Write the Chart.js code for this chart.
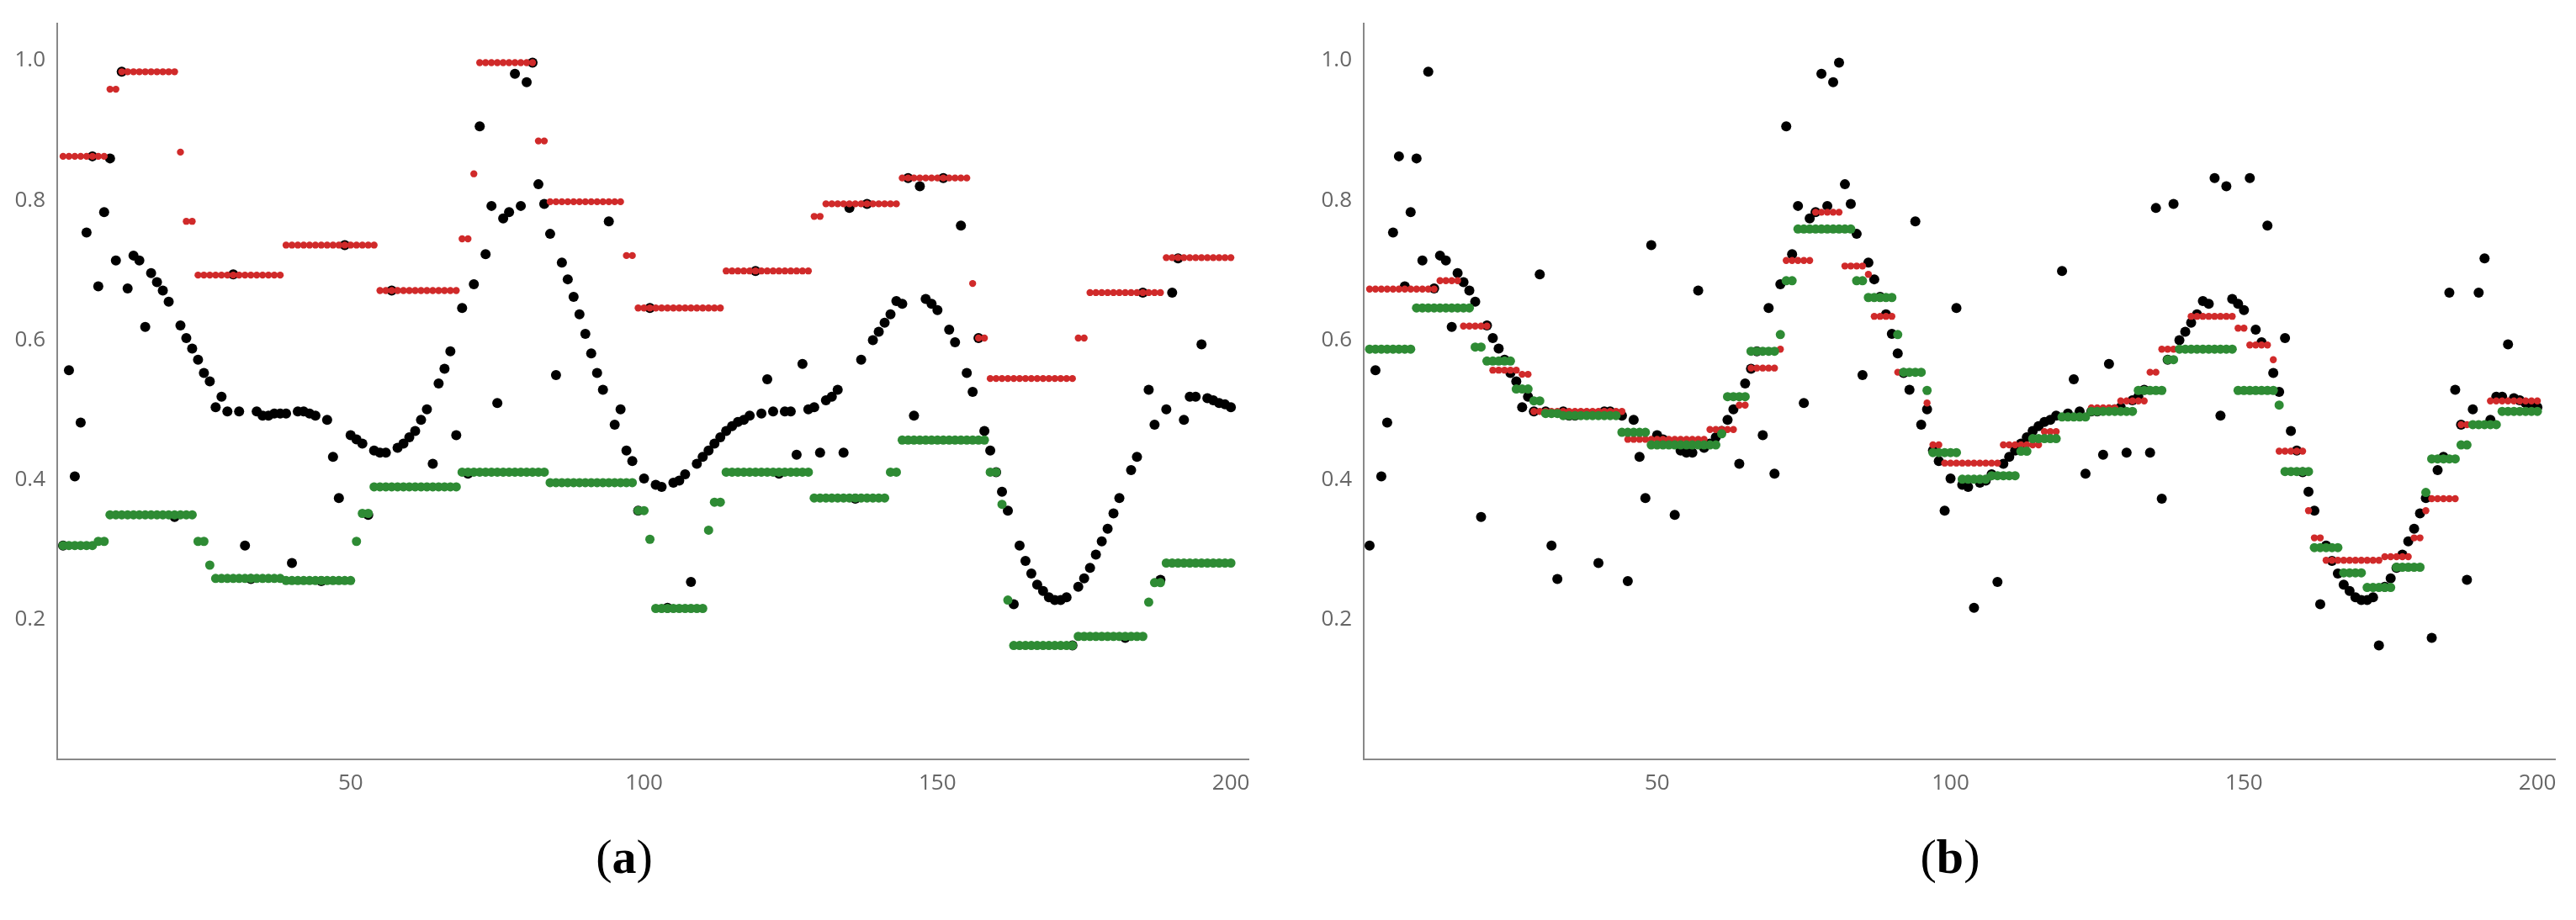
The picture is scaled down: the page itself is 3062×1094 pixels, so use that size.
<!DOCTYPE html>
<html>
<head>
<meta charset="utf-8">
<script src="https://cdn.jsdelivr.net/npm/chart.js@4.4.1/dist/chart.umd.min.js"></script>
<style>
  body { margin: 0; background: #fff; width: 3062px; height: 1094px; overflow: hidden; position: relative; }
  .panel { position: absolute; top: 0; width: 1500px; height: 960px; }
  .cap { position: absolute; top: 985px; font-family: "Liberation Serif", serif; font-size: 58px; color: #000; transform: translateX(-50%); }
</style>
</head>
<body>
<div class="panel" style="left:0px"><canvas id="grafA"></canvas></div>
<div class="panel" style="left:1553px"><canvas id="grafB"></canvas></div>
<div class="cap" style="left:742px">(<b>a</b>)</div>
<div class="cap" style="left:2318px">(<b>b</b>)</div>
<script>
// valores negros (x = 1..200), iguales en ambos paneles
const negro = [
  0.306,0.557,0.405,0.482,0.754,0.863,0.677,0.783,0.860,0.714,
  0.984,0.674,0.721,0.714,0.619,0.696,0.683,0.671,0.655,0.347,
  0.621,0.603,0.588,0.572,0.553,0.541,0.504,0.519,0.498,0.694,
  0.498,0.306,0.258,0.498,0.492,0.492,0.495,0.495,0.495,0.281,
  0.498,0.498,0.495,0.492,0.255,0.486,0.433,0.374,0.736,0.464,
  0.458,0.452,0.350,0.442,0.439,0.439,0.671,0.446,0.452,0.461,
  0.470,0.486,0.501,0.423,0.538,0.559,0.584,0.464,0.646,0.409,
  0.680,0.906,0.723,0.792,0.510,0.774,0.783,0.981,0.792,0.969,
  0.997,0.823,0.795,0.752,0.550,0.711,0.687,0.662,0.637,0.609,
  0.581,0.553,0.529,0.770,0.479,0.501,0.442,0.427,0.356,0.402,
  0.646,0.393,0.390,0.217,0.396,0.399,0.408,0.254,0.423,0.433,
  0.442,0.452,0.461,0.470,0.477,0.483,0.486,0.492,0.699,0.495,
  0.544,0.498,0.409,0.498,0.498,0.436,0.566,0.501,0.504,0.439,
  0.514,0.519,0.529,0.439,0.789,0.373,0.572,0.795,0.600,0.612,
  0.625,0.637,0.656,0.652,0.832,0.492,0.820,0.659,0.652,0.643,
  0.832,0.615,0.597,0.764,0.553,0.526,0.603,0.470,0.442,0.411,
  0.383,0.356,0.222,0.306,0.284,0.266,0.250,0.241,0.232,0.228,
  0.228,0.232,0.163,0.247,0.259,0.274,0.293,0.312,0.330,0.352,
  0.374,0.174,0.414,0.433,0.668,0.529,0.479,0.257,0.501,0.668,
  0.717,0.486,0.519,0.519,0.594,0.517,0.514,0.510,0.508,0.504
];

// escalones: valor y cantidad de puntos consecutivos
const rojoA_val = [0.863,0.959,0.984,0.869,0.770,0.693,0.736,0.671,0.745,0.838,0.997,0.885,0.798,0.721,0.646,0.699,0.777,0.795,0.832,0.681,0.603,0.545,0.603,0.668,0.718];
const rojoA_n   = [8,2,10,1,2,15,16,14,2,1,10,2,13,2,15,15,2,13,12,1,2,15,2,13,12];
const verdeA_val = [0.306,0.312,0.350,0.312,0.278,0.259,0.256,0.312,0.352,0.390,0.411,0.396,0.356,0.315,0.216,0.328,0.368,0.411,0.374,0.411,0.457,0.411,0.365,0.228,0.163,0.176,0.225,0.253,0.281];
const verdeA_n   = [6,2,15,2,1,12,12,1,2,15,15,15,2,1,9,1,2,15,13,2,15,2,1,1,11,12,1,2,12];
const rojoB_val = [0.673,0.685,0.620,0.557,0.551,0.498,0.458,0.472,0.507,0.560,0.587,0.714,0.783,0.706,0.694,0.634,0.554,0.510,0.450,0.424,0.450,0.469,0.490,0.503,0.513,0.554,0.587,0.634,0.617,0.593,0.572,0.441,0.356,0.317,0.285,0.290,0.317,0.356,0.373,0.479,0.513];
const rojoB_n   = [12,4,5,5,2,16,14,5,2,5,1,5,5,4,1,4,5,1,2,10,7,3,5,5,5,2,5,8,2,4,1,5,1,2,10,5,2,1,5,5,9];
const verdeB_val = [0.587,0.646,0.590,0.570,0.530,0.513,0.495,0.492,0.468,0.450,0.466,0.519,0.584,0.608,0.685,0.759,0.685,0.661,0.608,0.554,0.528,0.439,0.401,0.406,0.441,0.459,0.490,0.498,0.528,0.572,0.587,0.528,0.507,0.412,0.303,0.267,0.246,0.275,0.382,0.430,0.450,0.479,0.498];
const verdeB_n   = [8,10,2,5,3,2,3,10,5,12,1,4,5,1,2,10,2,5,1,4,1,5,5,5,2,5,5,8,5,2,10,7,1,5,5,4,5,5,1,5,2,5,7];

const ticksX = [50, 100, 150, 200];
const ticksY = [0.2, 0.4, 0.6, 0.8, 1.0];

function puntos(vals) {
  return vals.map((v, i) => ({ x: i + 1, y: v }));
}
function escalones(vals, cuentas) {
  const out = [];
  vals.forEach((v, k) => { for (let j = 0; j < cuentas[k]; j++) out.push(v); });
  return puntos(out);
}

function crearGrafico(id, rojo, verde) {
  const ctx = document.getElementById(id).getContext('2d');
  return new Chart(ctx, {
    type: 'scatter',
    data: {
      datasets: [
        { data: verde, backgroundColor: '#2e8b34', borderWidth: 0, pointRadius: 5.5, order: 0 },
        { data: rojo, backgroundColor: '#d02a2a', borderWidth: 0, pointRadius: 4.2, order: 1 },
        { data: puntos(negro), backgroundColor: '#000', borderWidth: 0, pointRadius: 6, order: 2 }
      ]
    },
    options: {
      responsive: true,
      maintainAspectRatio: false,
      animation: false,
      layout: { padding: { top: 28, right: 16 } },
      plugins: { legend: { display: false }, tooltip: { enabled: false } },
      scales: {
        x: {
          type: 'linear', min: 0, max: 203,
          border: { color: '#888', width: 2 },
          grid: { display: false, drawTicks: true, tickLength: 10, tickColor: '#888' },
          afterBuildTicks: s => { s.ticks = []; for (let v = 10; v <= 200; v += 10) s.ticks.push({ value: v }); },
          ticks: {
            color: '#666', font: { family: 'Open Sans', size: 26 }, maxRotation: 0, autoSkip: false,
            callback: v => ticksX.includes(v) ? String(v) : ''
          },
          afterFit: s => { s.height = 57; }
        },
        y: {
          type: 'linear', min: 0, max: 1.053,
          border: { color: '#888', width: 2 },
          grid: { display: false, drawTicks: true, tickLength: 10, tickColor: '#888' },
          afterBuildTicks: s => { s.ticks = []; for (let k = 1; k <= 20; k++) s.ticks.push({ value: k / 20 }); },
          ticks: {
            color: '#666', font: { family: 'Open Sans', size: 26 }, autoSkip: false, padding: 4,
            callback: v => ticksY.some(t => Math.abs(t - v) < 1e-6) ? v.toFixed(1) : ''
          },
          afterFit: s => { s.width = 68; }
        }
      }
    }
  });
}

crearGrafico('grafA', escalones(rojoA_val, rojoA_n), escalones(verdeA_val, verdeA_n));
crearGrafico('grafB', escalones(rojoB_val, rojoB_n), escalones(verdeB_val, verdeB_n));
</script>
</body>
</html>
